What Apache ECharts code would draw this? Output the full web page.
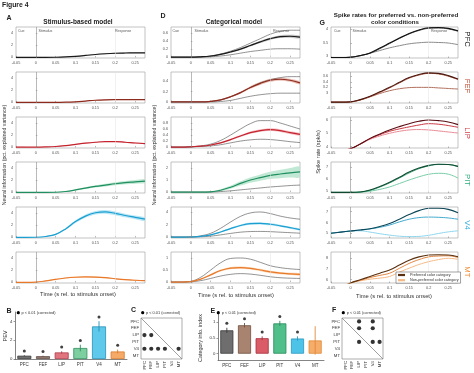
<!DOCTYPE html>
<html><head><meta charset="utf-8">
<script src="https://cdn.jsdelivr.net/npm/echarts@6/dist/echarts.min.js"></script>
<style>html,body{margin:0;padding:0;background:#fff}#c{width:474px;height:373px}</style>
</head><body><div id="c"></div>
<script>
// ---------- DATA ----------
const AREAS = ['PFC','FEF','LIP','PIT','V4','MT'];
const TIME = [-0.05,-0.025,0,0.025,0.05,0.075,0.1,0.125,0.15,0.175,0.2,0.225,0.25,0.275];
const X_TICKS = [-0.05,0,0.05,0.1,0.15,0.2,0.25];

// A: stimulus-based model (PEV)
const A_PFC = [0,0,0,0,0.02,0.08,0.18,0.32,0.48,0.6,0.68,0.72,0.74,0.75];
const A_PFC_SE = [0.02,0.02,0.02,0.02,0.03,0.04,0.05,0.06,0.06,0.07,0.07,0.07,0.07,0.07];
const A_FEF = [0,0,0,0,0,0.03,0.1,0.22,0.35,0.42,0.45,0.46,0.46,0.45];
const A_FEF_SE = [0.02,0.02,0.02,0.02,0.02,0.03,0.04,0.05,0.05,0.05,0.05,0.05,0.05,0.05];
const A_LIP = [0.05,0.05,0.05,0.08,0.15,0.3,0.5,0.7,0.85,0.95,0.95,0.85,0.72,0.62];
const A_LIP_SE = [0.03,0.03,0.03,0.03,0.04,0.05,0.06,0.07,0.08,0.08,0.08,0.08,0.08,0.08];
const A_PIT = [0,0,0,0,0.02,0.15,0.4,0.7,0.98,1.2,1.42,1.6,1.72,1.85];
const A_PIT_SE = [0.02,0.02,0.02,0.02,0.03,0.06,0.1,0.15,0.18,0.22,0.25,0.28,0.3,0.32];
const A_V4 = [0,0,0.02,0.15,0.5,1.4,2.6,3.5,4.05,4.2,3.95,3.6,3.3,3.0];
const A_V4_SE = [0.02,0.02,0.03,0.05,0.1,0.15,0.22,0.25,0.28,0.3,0.3,0.3,0.3,0.3];
const A_MT = [0,0,0.05,0.25,0.5,0.72,0.85,0.9,0.88,0.78,0.6,0.45,0.35,0.28];
const A_MT_SE = [0.02,0.02,0.03,0.06,0.08,0.1,0.1,0.1,0.1,0.1,0.09,0.08,0.07,0.07];
const A_YMIN = [-0.1,-0.1,-0.1,-0.1,-0.1,-0.1];
const A_YMAX = [5,5,5,5,5,5];
const A_YTICKS = [[0,2,4],[0,2,4],[0,2,4],[0,2,4],[0,2,4],[0,2,4]];

// D: categorical model
const D_PFC = [0,0,0,0.01,0.03,0.07,0.13,0.2,0.29,0.38,0.46,0.51,0.52,0.5];
const D_PFC_SE = [0.005,0.005,0.005,0.005,0.008,0.01,0.015,0.02,0.025,0.03,0.03,0.035,0.035,0.035];
const D_PFC_HI = [0,0,0,0.01,0.03,0.08,0.15,0.24,0.35,0.46,0.57,0.64,0.67,0.67];
const D_PFC_LO = [0,0,0,0,0.01,0.03,0.06,0.1,0.14,0.17,0.2,0.21,0.21,0.2];
const D_FEF = [0,0,0,0,0.01,0.04,0.1,0.18,0.28,0.36,0.42,0.44,0.42,0.37];
const D_FEF_SE = [0.005,0.005,0.005,0.005,0.008,0.01,0.015,0.02,0.025,0.03,0.03,0.03,0.03,0.03];
const D_FEF_HI = [0,0,0,0,0.01,0.04,0.1,0.18,0.28,0.37,0.43,0.47,0.49,0.49];
const D_FEF_LO = [0,0,0,0,0,0.01,0.03,0.07,0.11,0.14,0.16,0.17,0.17,0.17];
const D_LIP = [0,0,0.01,0.03,0.07,0.14,0.25,0.37,0.48,0.55,0.58,0.55,0.48,0.42];
const D_LIP_SE = [0.005,0.005,0.005,0.01,0.015,0.02,0.03,0.035,0.04,0.04,0.045,0.045,0.045,0.045];
const D_LIP_HI = [0,0,0.01,0.04,0.1,0.22,0.4,0.6,0.78,0.88,0.88,0.8,0.7,0.6];
const D_LIP_LO = [0,0,0.01,0.02,0.04,0.08,0.14,0.2,0.24,0.26,0.25,0.22,0.18,0.15];
const D_PIT = [0,0,0,0,0.02,0.15,0.4,0.72,1.0,1.2,1.38,1.5,1.6,1.68];
const D_PIT_SE = [0.02,0.02,0.02,0.02,0.03,0.08,0.12,0.18,0.22,0.26,0.3,0.35,0.4,0.45];
const D_PIT_LO = [0,0,0,0,0,0.04,0.1,0.18,0.26,0.34,0.42,0.48,0.54,0.58];
const D_V4 = [0,0,0.01,0.12,0.35,0.8,1.35,1.85,2.15,2.2,2.05,1.8,1.5,1.2];
const D_V4_SE = [0.02,0.02,0.02,0.03,0.05,0.08,0.12,0.15,0.17,0.18,0.18,0.17,0.16,0.15];
const D_V4_HI = [0,0,0.02,0.2,0.6,1.4,2.4,3.3,3.85,4.0,3.75,3.35,3.05,2.85];
const D_V4_LO = [0,0,0.01,0.05,0.15,0.35,0.58,0.78,0.88,0.9,0.86,0.78,0.7,0.62];
const D_MT = [0,0,0.02,0.12,0.3,0.48,0.58,0.6,0.57,0.5,0.42,0.37,0.34,0.32];
const D_MT_SE = [0.01,0.01,0.01,0.02,0.03,0.04,0.05,0.05,0.05,0.05,0.05,0.05,0.05,0.05];
const D_MT_HI = [0,0,0.03,0.2,0.5,0.8,0.98,1.0,0.95,0.82,0.68,0.6,0.55,0.52];
const D_MT_LO = [0,0,0.01,0.06,0.15,0.25,0.32,0.35,0.33,0.28,0.22,0.18,0.16,0.15];
const D_YMIN = [-0.02,-0.02,-0.03,-0.08,-0.15,-0.04];
const D_YMAX = [0.75,0.58,1.0,2.5,4.8,1.25];
const D_YTICKS = [[0,0.2,0.4,0.6],[0,0.2,0.4],[0,0.2,0.4,0.6,0.8],[0,1,2],[0,2,4],[0,0.5,1]];

// G: spike rates
const G_PFC_PREF = [2.95,2.95,2.96,3.02,3.12,3.3,3.49,3.68,3.85,3.98,4.06,4.07,4.04,3.95];
const G_PFC_ALT  = [2.95,2.95,2.96,3.02,3.11,3.28,3.47,3.66,3.83,3.96,4.04,4.05,4.02,3.93];
const G_PFC_NON  = [2.95,2.95,2.96,3.02,3.11,3.21,3.31,3.39,3.46,3.5,3.52,3.51,3.49,3.43];
const G_FEF_PREF = [2.67,2.67,2.68,2.76,2.88,3.04,3.2,3.38,3.55,3.66,3.72,3.7,3.62,3.5];
const G_FEF_ALT  = [2.67,2.67,2.68,2.75,2.87,3.02,3.18,3.36,3.53,3.64,3.7,3.68,3.6,3.48];
const G_FEF_NON  = [2.67,2.67,2.68,2.75,2.86,2.98,3.08,3.15,3.19,3.2,3.2,3.18,3.16,3.14];
const G_LIP_PREF = [3.6,3.7,3.85,4.2,4.62,4.95,5.25,5.5,5.72,5.9,6.0,5.95,5.85,5.65];
const G_LIP_ALT  = [3.6,3.7,3.85,4.2,4.6,4.9,5.15,5.33,5.48,5.62,5.72,5.68,5.58,5.45];
const G_LIP_NON  = [3.6,3.7,3.85,4.2,4.55,4.8,5.0,5.15,5.25,5.28,5.25,5.18,5.1,5.02];
const G_PIT_PREF = [4.9,4.9,4.9,4.93,5.09,5.38,5.74,6.15,6.57,6.9,7.12,7.22,7.2,7.04];
const G_PIT_ALT  = [4.9,4.9,4.9,4.93,5.07,5.34,5.68,6.08,6.5,6.85,7.08,7.2,7.19,7.02];
const G_PIT_NON  = [4.9,4.9,4.9,4.92,5.0,5.15,5.35,5.63,5.92,6.18,6.39,6.47,6.4,6.08];
const G_V4_PREF  = [5.0,5.1,5.2,5.3,5.42,5.62,5.9,6.3,6.73,7.1,7.33,7.32,7.22,6.9];
const G_V4_ALT   = [5.0,5.1,5.2,5.3,5.4,5.55,5.76,6.05,6.3,6.45,6.5,6.48,6.42,6.3];
const G_V4_NON   = [5.0,5.1,5.2,5.22,5.1,4.95,4.82,4.72,4.68,4.7,4.8,4.97,5.12,5.22];
const G_MT_PREF  = [5.0,5.3,5.7,6.0,6.3,6.6,6.9,7.35,7.8,8.1,8.27,8.3,8.27,8.12];
const G_MT_ALT   = [5.0,5.3,5.7,5.95,6.2,6.4,6.6,7.05,7.5,7.85,8.1,8.18,8.2,8.05];
const G_MT_NON   = [5.0,5.3,5.7,5.9,6.05,6.15,6.3,6.7,7.06,7.4,7.66,7.85,7.97,7.88];
const G_YMIN = [2.93,2.64,3.9,4.85,4.55,5.7];
const G_YMAX = [4.09,3.75,6.22,7.4,7.44,8.55];
const G_YTICKS = [[3,3.5,4],[3,3.2,3.4,3.6],[4,5,6],[5,6,7],[5,6,7],[6,7,8]];

// B: PEV bars, E: category info index bars
const B_VALUES = [0.35,0.3,0.7,1.17,3.47,0.8];
const B_ERR = [0.05,0.05,0.12,0.35,0.55,0.2];
const B_SIG = [1,1,1,1,1,1];
const B_YTICKS = [0,2,4];
const E_VALUES = [0.74,0.9,0.49,0.96,0.48,0.42];
const E_ERR = [0.08,0.07,0.06,0.08,0.07,0.45];
const E_SIG = [1,1,1,1,1,0];
const E_YTICKS = [0,0.5,1];
// C, F: significant pairwise differences [row, column]
const C_PAIRS = [['LIP','PFC'],['LIP','FEF'],['V4','PFC'],['V4','FEF'],['V4','LIP'],['V4','PIT'],['V4','MT']];
const F_PAIRS = [['PFC','LIP'],['PFC','V4'],['FEF','LIP'],['FEF','V4'],['PIT','LIP'],['PIT','V4'],['PIT','MT']];

// ---------- STYLE ----------
const FONT = '"Liberation Sans", Arial, sans-serif';
const LINE_COL = ['#1a1a1a','#8e2b1e','#c4232e','#1f8f5f','#1a9fd0','#e8782a'];
const BAND_COL = ['#bdbdbd','#e8b4a8','#f5b3b9','#b6e4cc','#aee2f5','#fcd0a6'];
const LABEL_COL = ['#222','#c0452c','#d03a44','#2fae7c','#2aaad8','#f08c36'];
const G_DARK = ['#111','#4a1a10','#5a0d12','#0f4a30','#0c4656','#5a3010'];
const G_ALTC = ['#444','#a8402c','#c4232e','#2a9e6e','#2aa0c8','#e0782a'];
const G_LIGHT = ['#8a8a8a','#b0705e','#e88a94','#78cca8','#8dd6ee','#f6b985'];
const B_FILL = ['#707070','#8f7b73','#e07580','#7dcf9f','#5ec9ea','#f6aa68'];
const B_EDGE = ['#3a3a3a','#5e4a42','#b03a48','#2f8f5e','#2690b8','#d87a2a'];
const E_FILL = ['#6e6e6e','#a88370','#d95c67','#50bf89','#4ec3e8','#f7ad6a'];
const E_EDGE = ['#3a3a3a','#6e4f3e','#a8303c','#2a8a5c','#2a98c0','#e08a3a'];
const ROW_TOPS = [27,72,117,162,207,252];
const ROW_H = 31;
const COLS = {A:{left:16,width:129}, D:{left:171,width:129}, G:{left:331,width:127}};

const A_DATA = [[A_PFC,A_PFC_SE],[A_FEF,A_FEF_SE],[A_LIP,A_LIP_SE],[A_PIT,A_PIT_SE],[A_V4,A_V4_SE],[A_MT,A_MT_SE]];
const D_DATA = [[D_PFC,D_PFC_SE,D_PFC_HI,D_PFC_LO],[D_FEF,D_FEF_SE,D_FEF_HI,D_FEF_LO],[D_LIP,D_LIP_SE,D_LIP_HI,D_LIP_LO],
                [D_PIT,D_PIT_SE,null,D_PIT_LO],[D_V4,D_V4_SE,D_V4_HI,D_V4_LO],[D_MT,D_MT_SE,D_MT_HI,D_MT_LO]];
const G_DATA = [[G_PFC_PREF,G_PFC_ALT,G_PFC_NON],[G_FEF_PREF,G_FEF_ALT,G_FEF_NON],[G_LIP_PREF,G_LIP_ALT,G_LIP_NON],
                [G_PIT_PREF,G_PIT_ALT,G_PIT_NON],[G_V4_PREF,G_V4_ALT,G_V4_NON],[G_MT_PREF,G_MT_ALT,G_MT_NON]];

const grids=[], xAxes=[], yAxes=[], series=[], graphic=[];
const fmt = v => String(Math.round(v*1000)/1000);
const pts = arr => TIME.map((t,k)=>[t, arr[k]]);

function linePanel(col, row, ymin, ymax, yticks){
  const i = grids.length;
  grids.push({left:COLS[col].left, width:COLS[col].width, top:ROW_TOPS[row], height:ROW_H,
    show:true, borderColor:'#9a9a9a', borderWidth:0.6, backgroundColor:'transparent'});
  xAxes.push({type:'value', gridIndex:i, min:-0.05, max:0.275,
    axisLine:{show:false}, splitLine:{show:false},
    axisTick:{show:true, inside:true, length:1.5, customValues:X_TICKS, lineStyle:{color:'#777', width:0.5}},
    axisLabel:{customValues:X_TICKS, fontSize:3.8, color:'#555', margin:3, formatter:fmt, fontFamily:FONT}});
  yAxes.push({type:'value', gridIndex:i, min:ymin, max:ymax,
    axisLine:{show:false}, splitLine:{show:false},
    axisTick:{show:true, inside:true, length:1.5, customValues:yticks, lineStyle:{color:'#777', width:0.5}},
    axisLabel:{customValues:yticks, fontSize:3.8, color:'#555', margin:3, formatter:fmt, fontFamily:FONT}});
  series.push({type:'line', xAxisIndex:i, yAxisIndex:i, data:[], silent:true, z:3,
    markLine:{silent:true, symbol:'none', animation:false, label:{show:false},
      data:[{xAxis:0, lineStyle:{color:'#8a8a8a', width:0.6, type:'solid'}},
            {xAxis:0.2, lineStyle:{color:'#e2e2e2', width:0.5, type:'solid'}}]}});
  return i;
}
function lineS(i, arr, color, width, name, z){
  series.push({type:'line', name:name||undefined, xAxisIndex:i, yAxisIndex:i, data:pts(arr), symbol:'none',
    smooth:0.4, lineStyle:{color, width}, itemStyle:{color}, z:z||3, silent:true});
}
// shaded error band as one polygon through the axis scales
function bandS(i, mean, se, bandColor){
  series.push({type:'custom', xAxisIndex:i, yAxisIndex:i, silent:true, z:2, clip:true,
    data:TIME.map((t,k)=>[t, mean[k]-se[k], mean[k]+se[k]]),
    encode:{x:0, y:[1,2]},
    renderItem:(params, api)=>{
      if (params.dataIndex !== 0) return null;
      const up = TIME.map((t,k)=>api.coord([t, mean[k]+se[k]]));
      const dn = TIME.map((t,k)=>api.coord([t, mean[k]-se[k]])).reverse();
      return {type:'polygon', shape:{points:up.concat(dn), smooth:0.25},
        style:{fill:bandColor, opacity:0.85}};
    }});
}

// Column A
for (let r=0;r<6;r++){
  const i = linePanel('A', r, A_YMIN[r], A_YMAX[r], A_YTICKS[r]);
  bandS(i, A_DATA[r][0], A_DATA[r][1], BAND_COL[r]);
  lineS(i, A_DATA[r][0], LINE_COL[r], 1.2);
}
// Column D
for (let r=0;r<6;r++){
  const i = linePanel('D', r, D_YMIN[r], D_YMAX[r], D_YTICKS[r]);
  const [m,se,hi,lo] = D_DATA[r];
  bandS(i, m, se, BAND_COL[r]);
  if (hi) lineS(i, hi, '#4a4a4a', 0.6);
  if (lo) lineS(i, lo, '#4a4a4a', 0.6);
  lineS(i, m, LINE_COL[r], 1.2);
}
// Column G
for (let r=0;r<6;r++){
  const i = linePanel('G', r, G_YMIN[r], G_YMAX[r], G_YTICKS[r]);
  const [p,a,n] = G_DATA[r];
  const last = r===5;
  lineS(i, n, G_LIGHT[r], 1.0, last?'Non-preferred color category':null);
  lineS(i, a, G_ALTC[r], 0.9);
  lineS(i, p, G_DARK[r], 1.1, last?'Preferred color category':null, 4);
}

// Bar panels
function barPanel(left, top, width, height, ymin, ymax, yticks, vals, errs, sig, fill, edge, dotOff, barW){
  const i = grids.length;
  grids.push({left, top, width, height, show:false});
  xAxes.push({type:'category', gridIndex:i, data:AREAS,
    axisLine:{show:true, onZero:false, lineStyle:{color:'#333', width:0.6}}, axisTick:{show:false},
    axisLabel:{fontSize:4.5, color:'#333', margin:3, fontFamily:FONT}});
  yAxes.push({type:'value', gridIndex:i, min:ymin, max:ymax, splitLine:{show:false},
    axisLine:{show:true, lineStyle:{color:'#333', width:0.6}},
    axisTick:{show:true, length:1.5, customValues:yticks, lineStyle:{color:'#333', width:0.5}},
    axisLabel:{customValues:yticks, fontSize:4.3, color:'#333', margin:2.5, formatter:fmt, fontFamily:FONT}});
  series.push({type:'bar', xAxisIndex:i, yAxisIndex:i, barWidth:barW, silent:true,
    data:vals.map((v,k)=>({value:v, itemStyle:{color:fill[k], borderColor:edge[k], borderWidth:0.8}}))});
  series.push({type:'custom', xAxisIndex:i, yAxisIndex:i, silent:true, z:5,
    data:vals.map((v,k)=>[k, v-errs[k], v+errs[k]]),
    encode:{x:0, y:[1,2]},
    renderItem:(params, api)=>{
      const p1 = api.coord([api.value(0), api.value(1)]);
      const p2 = api.coord([api.value(0), api.value(2)]);
      return {type:'line', shape:{x1:p1[0], y1:p1[1], x2:p2[0], y2:p2[1]},
        style:{stroke:edge[params.dataIndex], lineWidth:0.9}};
    }});
  series.push({type:'scatter', xAxisIndex:i, yAxisIndex:i, symbolSize:3, silent:true, z:6,
    itemStyle:{color:'#111'},
    data:vals.map((v,k)=>sig[k]?[k, v+errs[k]+dotOff]:null).filter(d=>d)});
}
barPanel(15, 312, 112, 47, 0, 5, B_YTICKS, B_VALUES, B_ERR, B_SIG, B_FILL, B_EDGE, 0.45, '75%');
barPanel(218, 312, 106, 48, -0.2, 1.32, E_YTICKS, E_VALUES, E_ERR, E_SIG, E_FILL, E_EDGE, 0.14, '74%');

// Matrix panels
const MAT_EXT = [-0.5, 5.5];
const MAT_IDX = [0,1,2,3,4,5];
function matrixPanel(left, top, size, pairs){
  const i = grids.length;
  grids.push({left, top, width:size, height:size, show:true, borderColor:'#777', borderWidth:0.6});
  xAxes.push({type:'value', gridIndex:i, min:MAT_EXT[0], max:MAT_EXT[1], splitLine:{show:false},
    axisLine:{show:false}, axisTick:{show:false},
    axisLabel:{customValues:MAT_IDX, rotate:90, fontSize:4.3, color:'#333', margin:2, formatter:v=>AREAS[Math.round(v)], fontFamily:FONT}});
  yAxes.push({type:'value', gridIndex:i, min:MAT_EXT[0], max:MAT_EXT[1], inverse:true, splitLine:{show:false},
    axisLine:{show:false}, axisTick:{show:false},
    axisLabel:{customValues:MAT_IDX, fontSize:4.3, color:'#333', margin:2, formatter:v=>AREAS[Math.round(v)], fontFamily:FONT}});
  series.push({type:'line', xAxisIndex:i, yAxisIndex:i, symbol:'none', silent:true,
    data:[[MAT_EXT[0],MAT_EXT[0]],[MAT_EXT[1],MAT_EXT[1]]], lineStyle:{color:'#777', width:0.7}});
  series.push({type:'scatter', xAxisIndex:i, yAxisIndex:i, symbolSize:4.2, silent:true, itemStyle:{color:'#000'},
    data:pairs.map(([r,c])=>[AREAS.indexOf(c), AREAS.indexOf(r)])});
}
matrixPanel(141, 318, 41, C_PAIRS);
matrixPanel(342, 318, 41, F_PAIRS);

// ---------- TEXT ----------
function txt(x, y, text, o){
  o = o||{};
  graphic.push({type:'text', x, y, rotation:o.rot||0, z:10, silent:true,
    style:{text, fill:o.color||'#222', font:(o.bold?'bold ':'')+(o.size||5)+'px '+FONT,
      textAlign:o.align||'left', textVerticalAlign:'middle'}});
}
function dot(x,y){ graphic.push({type:'circle', shape:{cx:x, cy:y, r:1.6}, style:{fill:'#000'}, silent:true, z:10}); }

txt(2, 5, 'Figure 4', {bold:true, size:6.8});
txt(6.5, 18.5, 'A', {bold:true, size:7});
txt(160.5, 16, 'D', {bold:true, size:7});
txt(319.5, 23, 'G', {bold:true, size:7});
txt(78, 22.3, 'Stimulus-based model', {bold:true, size:6.5, align:'center'});
txt(234, 22.3, 'Categorical model', {bold:true, size:6.5, align:'center'});
txt(396, 15, 'Spike rates for preferred vs. non-preferred', {bold:true, size:6.2, align:'center'});
txt(395, 22.5, 'color conditions', {bold:true, size:6.2, align:'center'});
[['A',18,38.5,115],['D',172.5,194.5,273],['G',334,352.5,431]].forEach(([c,cx,sx,rx])=>{
  txt(cx, 30.5, 'Cue', {size:3.6, color:'#555'});
  txt(sx, 30.5, 'Stimulus', {size:3.6, color:'#555'});
  txt(rx, 30.5, 'Response', {size:3.6, color:'#555'});
});
txt(78, 294.5, 'Time (s rel. to stimulus onset)', {size:5.8, align:'center', color:'#333'});
txt(236, 295, 'Time (s rel. to stimulus onset)', {size:5.8, align:'center', color:'#333'});
txt(394, 296, 'Time (s rel. to stimulus onset)', {size:5.8, align:'center', color:'#333'});
txt(5, 155, 'Neural information (pct. explained variance)', {size:5.2, align:'center', rot:Math.PI/2, color:'#333'});
txt(155, 155, 'Neural information (pct. explained variance)', {size:5.2, align:'center', rot:Math.PI/2, color:'#333'});
txt(318, 152, 'Spike rate (spk/s)', {size:5.6, align:'center', rot:Math.PI/2, color:'#333'});
const LABEL_Y = [39,86,133,180,225,272];
AREAS.forEach((a,k)=>txt(467, LABEL_Y[k], a, {size:7.8, align:'center', rot:-Math.PI/2, color:LABEL_COL[k]}));
txt(6.5, 311, 'B', {bold:true, size:7});
txt(131, 310.5, 'C', {bold:true, size:7});
txt(210.5, 311, 'E', {bold:true, size:7});
txt(332, 310.5, 'F', {bold:true, size:7});
[[18.3,21.5],[142.7,146],[218.3,221.8],[343.3,346.8]].forEach(([dx,tx])=>{
  dot(dx, 312.7);
  txt(tx, 312.8, 'p < 0.01 (corrected)', {size:3.9, color:'#333'});
});
txt(5, 336, 'PEV', {size:5.6, align:'center', rot:Math.PI/2, color:'#333'});
txt(201, 338, 'Category info. index', {size:5.4, align:'center', rot:Math.PI/2, color:'#333'});

const chart = echarts.init(document.getElementById('c'), null, {renderer:'canvas', width:474, height:373});
chart.setOption({
  animation:false,
  backgroundColor:'#fff',
  textStyle:{fontFamily:FONT},
  grid:grids, xAxis:xAxes, yAxis:yAxes, series,
  legend:{data:['Preferred color category','Non-preferred color category'], left:396, top:272,
    orient:'vertical', itemWidth:7, itemHeight:2.2, itemGap:1.2, padding:[1,2,1,2],
    borderColor:'#444', borderWidth:0.5, backgroundColor:'#fff', icon:'rect', selectedMode:false,
    textStyle:{fontSize:3.8, color:'#333', fontFamily:FONT}, z:20},
  graphic
});
</script></body></html>
